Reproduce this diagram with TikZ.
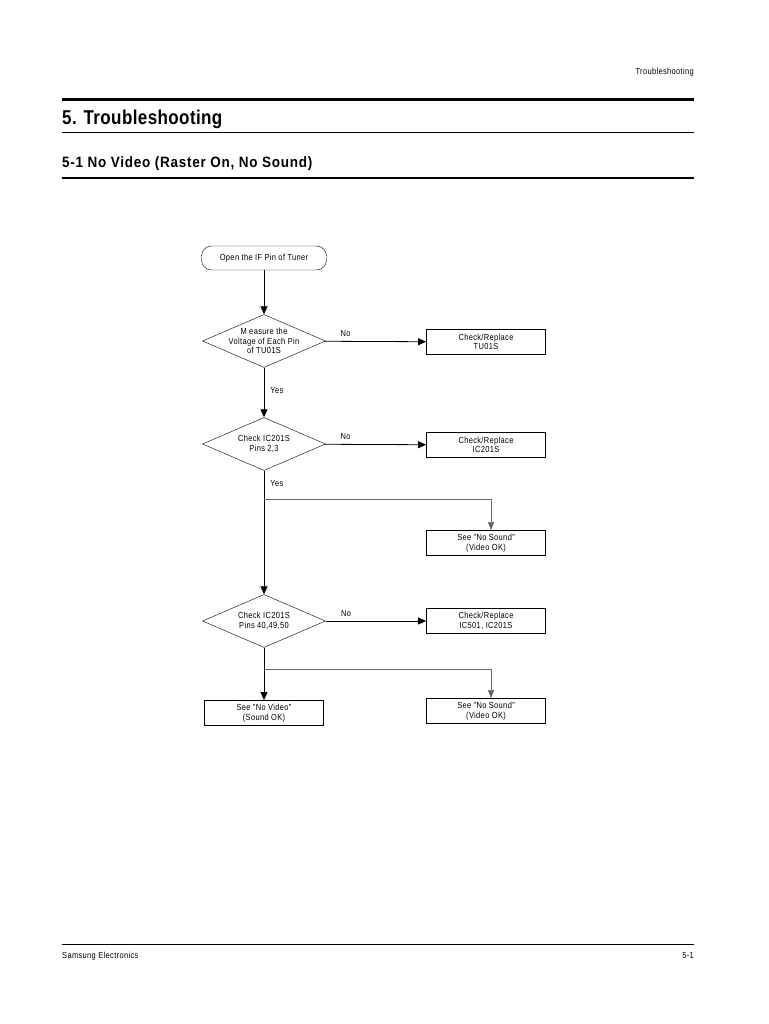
\documentclass[tikz,border=0pt]{standalone}
\usepackage{fontspec}
\setmainfont{Liberation Sans}[FakeStretch=0.85,LetterSpace=4]
\newfontfamily\headfont{Liberation Sans}[FakeStretch=0.85,LetterSpace=2]
\newfontfamily\subfont{Liberation Sans}[FakeStretch=0.9,LetterSpace=5]
\usetikzlibrary{shapes.geometric,arrows.meta}
\begin{document}
\begin{tikzpicture}[x=1pt,y=-1pt,
  every node/.style={font=\fontsize{8.8}{9.6}\selectfont, align=center, inner sep=0pt},
  boxx/.style={draw, thick, minimum width=119pt, minimum height=25pt},
  dia/.style={draw, thin, diamond, aspect=2.3, minimum width=123pt, minimum height=53pt},
  startb/.style={draw, thin, rounded corners=10pt, minimum width=125pt, minimum height=24pt},
  arr/.style={-{Triangle[length=8pt,width=7pt]}, thick},
  garr/.style={-{Triangle[length=8pt,width=6pt]}, draw=black!60, thin},
  lab/.style={font=\fontsize{8.8}{9.6}\selectfont}]
\useasboundingbox (0,0) rectangle (768,1024);
\node[anchor=east, lab] (hdr) at (694,72) {Troubleshooting};
\draw[line width=3pt] (62,100) -- (694,100);
\node[anchor=west, font=\headfont\fontsize{20}{22}\bfseries\selectfont] (t1) at (62,119) {5. Troubleshooting};
\draw[line width=1pt] (62,132.5) -- (694,132.5);
\node[anchor=west, font=\subfont\fontsize{15}{17}\bfseries\selectfont] (t2) at (62,164) {5-1 No Video (Raster On, No Sound)};
\draw[line width=2pt] (62,178.5) -- (694,178.5);

\node[startb] (s) at (264,258) {Open the IF Pin of Tuner};
\node[dia, inner sep=-7pt] (d1) at (264,341) {M easure the\\Voltage of Each Pin\\of TU01S};
\node[boxx] (b1) at (486,342) {Check/Replace\\TU01S};
\node[dia] (d2) at (264,444) {Check IC201S\\Pins 2,3};
\node[boxx] (b2) at (486,445) {Check/Replace\\IC201S};
\node[boxx] (b3) at (486,543) {See "No Sound"\\(Video OK)};
\node[dia] (d3) at (264,621) {Check IC201S\\Pins 40,49,50};
\node[boxx] (b4) at (486,621) {Check/Replace\\IC501, IC201S};
\node[boxx] (b5) at (264,713) {See "No Video"\\(Sound OK)};
\node[boxx] (b6) at (486,711) {See "No Sound"\\(Video OK)};

\draw[arr] (s) -- (d1);
\draw[arr] (d1) -- node[pos=0.15, above=4pt, anchor=south west, lab] {No} (b1);
\draw[arr] (d1) -- node[pos=0.45, right=6pt, lab] {Yes} (d2);
\draw[arr] (d2) -- node[pos=0.15, above=4pt, anchor=south west, lab] {No} (b2);
\draw[arr] (d2) -- node[pos=0.1, right=6pt, lab] {Yes} (d3);
\coordinate (j1) at (264,499);
\coordinate (e1) at ([xshift=5pt]b3.north);
\draw[garr] (j1) -| (e1);
\draw[arr] (d3) -- node[pos=0.15, above=4pt, anchor=south west, lab] {No} (b4);
\draw[arr] (d3) -- (b5);
\coordinate (j2) at (264,669);
\coordinate (e2) at ([xshift=5pt]b6.north);
\draw[garr] (j2) -| (e2);

\draw[thin] (62,944) -- (694,944);
\node[anchor=west, lab] (f1) at (62,956) {Samsung Electronics};
\node[anchor=east, lab] (f2) at (694,956) {5-1};
\end{tikzpicture}
\end{document}
